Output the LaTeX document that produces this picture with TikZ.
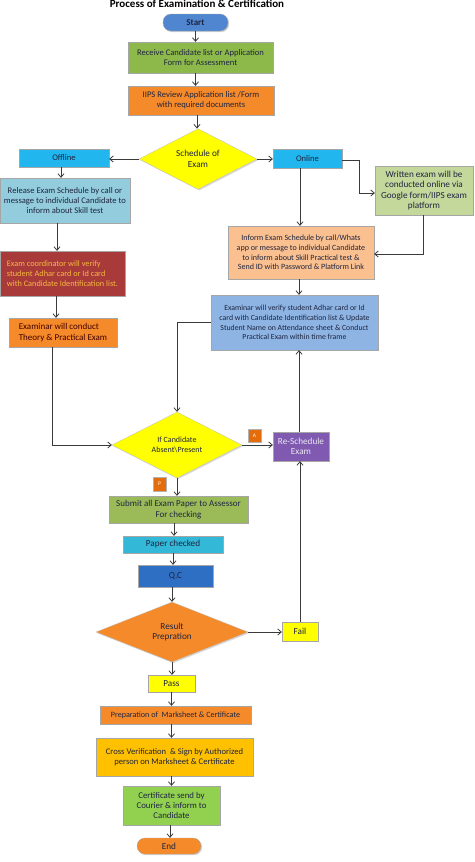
\documentclass[tikz,border=0pt]{standalone}
\usepackage{fontspec}
\setmainfont{Carlito}
\usetikzlibrary{arrows.meta,shapes.geometric,shadows,calc}
\definecolor{cStart}{HTML}{4F86CF}
\definecolor{cGreen}{HTML}{8DB84A}
\definecolor{cOrange}{HTML}{F58A2A}
\definecolor{cYellow}{HTML}{FFFF00}
\definecolor{cCyan}{HTML}{21B6EE}
\definecolor{cLtGreen}{HTML}{C4D89C}
\definecolor{cLtBlue}{HTML}{93CDDD}
\definecolor{cDkRed}{HTML}{A93A3A}
\definecolor{cCoordTxt}{HTML}{F5B841}
\definecolor{cPeach}{HTML}{FBC08F}
\definecolor{cMidBlue}{HTML}{8DB4E3}
\definecolor{cPurple}{HTML}{7F5AB0}
\definecolor{cTag}{HTML}{E46C0A}
\definecolor{cSubmit}{HTML}{9BBB59}
\definecolor{cPaper}{HTML}{33B8D8}
\definecolor{cQC}{HTML}{2E6FC4}
\definecolor{cGold}{HTML}{FFC000}
\definecolor{cCert}{HTML}{92D050}
\definecolor{cTxt}{HTML}{1F2540}
\definecolor{cLine}{HTML}{3A3A3A}
\begin{document}
\begin{tikzpicture}[x=1pt,y=-1pt,
  every node/.style={font=\fontsize{8.6}{10.3}\selectfont, text=cTxt},
  box/.style={draw=black!35, line width=0.3pt, align=center, inner sep=1pt,
    drop shadow={shadow xshift=1.2pt, shadow yshift=-1.2pt, opacity=0.35}},
  pill/.style={box, rounded corners=8pt},
  dia/.style={diamond, draw=black!25, line width=0.3pt, align=center, inner sep=0pt,
    drop shadow={shadow xshift=1.2pt, shadow yshift=-1.2pt, opacity=0.3}},
  tag/.style={fill=cTag, draw=black!30, line width=0.3pt, inner sep=0pt,
    font=\fontsize{5.5}{6}\selectfont, text=white},
  arr/.style={draw=cLine, line width=0.8pt, -{Straight Barb[length=3.5pt,width=6pt]}},
  ln/.style={draw=cLine, line width=0.8pt}
]
\useasboundingbox (0,0) rectangle (474,862);

\node[font=\bfseries\fontsize{11}{12}\selectfont, text=black, anchor=base] (title) at (197,7.5) {Process of Examination \& Certification};

\node[pill, fill=cStart, minimum width=65, minimum height=17, font=\fontsize{9}{10}\selectfont] (start) at (195.5,22.5) {\textbf{Start}};
\node[box, fill=cGreen, minimum width=145, minimum height=31] (recv) at (200.5,57.5) {Receive Candidate list or Application\\Form for Assessment};
\node[box, fill=cOrange, minimum width=146, minimum height=29] (iips) at (201,100.5) {IIPS Review Application list /Form\\with required documents};
\node[dia, fill=cYellow, minimum width=118, minimum height=52, font=\fontsize{9.2}{10.5}\selectfont] (sched) at (198,159) {Schedule of\\Exam};
\node[box, fill=cCyan, minimum width=90, minimum height=18] (offline) at (64,158) {Offline};
\node[box, fill=cCyan, minimum width=69, minimum height=19] (online) at (307.5,158.5) {Online};
\node[box, fill=cLtGreen, minimum width=98, minimum height=49, font=\fontsize{9.2}{10.6}\selectfont] (written) at (424,190.5) {Written exam will be\\conducted online via\\Google form/IIPS exam\\platform};
\node[box, fill=cLtBlue, minimum width=130, minimum height=45] (release) at (65,200.5) {Release Exam Schedule by call or\\message to individual Candidate to\\inform about Skill test};
\node[box, fill=cDkRed, minimum width=125, minimum height=45, text=cCoordTxt, align=left, font=\fontsize{8.3}{10.3}\selectfont] (coord) at (62.5,273.5) {Exam coordinator will verify\\student Adhar card or Id card\\with Candidate Identification list.};
\node[box, fill=cOrange, minimum width=108, minimum height=29, align=left, text=black!75!red, font=\fontsize{9}{10.4}\selectfont] (conduct) at (63,332.5) {Examinar will conduct\\Theory \& Practical Exam};
\node[box, fill=cPeach, minimum width=146, minimum height=53, font=\fontsize{8.05}{9.7}\selectfont] (inform) at (301,252.5) {Inform Exam Schedule by call/Whats\\app or message to individual Candidate\\to inform about Skill Practical test \&\\Send ID with Password \& Platform Link};
\node[box, fill=cMidBlue, minimum width=167, minimum height=55, font=\fontsize{7.8}{9.7}\selectfont] (verify) at (294.5,322.5) {Examinar will verify student Adhar card or Id\\card with Candidate Identification list \& Update\\Student Name on Attendance sheet \& Conduct\\Practical Exam within time frame};
\node[dia, fill=cYellow, minimum width=130, minimum height=62, font=\fontsize{8}{9.6}\selectfont] (absent) at (177,445) {If Candidate\\Absent\textbackslash Present};
\node[box, fill=cPurple, minimum width=56, minimum height=29, text=white!85!cPurple, font=\fontsize{9.2}{10.5}\selectfont] (resched) at (301,446.5) {Re-Schedule\\Exam};
\node[tag, minimum width=13, minimum height=13] (tagA) at (254.5,435.5) {A};
\node[tag, minimum width=13, minimum height=14] (tagP) at (159.5,484) {P};
\node[box, fill=cSubmit, minimum width=139, minimum height=27, font=\fontsize{9}{10.4}\selectfont] (submit) at (178.5,509.5) {Submit all Exam Paper to Assessor\\For checking};
\node[box, fill=cPaper, minimum width=100, minimum height=17, font=\fontsize{9.2}{10}\selectfont] (paper) at (173,544.5) {Paper checked};
\node[box, fill=cQC, minimum width=75, minimum height=22, font=\fontsize{9.2}{10}\selectfont] (qc) at (175.5,576) {Q.C};
\node[dia, fill=cOrange, minimum width=152, minimum height=60, font=\fontsize{9.2}{10.5}\selectfont] (result) at (172,632) {Result\\Prepration};
\node[box, fill=cYellow, minimum width=36, minimum height=19, font=\fontsize{9.2}{10}\selectfont] (fail) at (300,631.5) {Fail};
\node[box, fill=cYellow, minimum width=47, minimum height=17, font=\fontsize{9.2}{10}\selectfont] (pass) at (171.5,683.5) {Pass};
\node[box, fill=cOrange, minimum width=151, minimum height=18, font=\fontsize{8.1}{9}\selectfont] (prep) at (175.5,715) {Preparation of~ Marksheet \& Certificate};
\node[box, fill=cGold, minimum width=157, minimum height=38] (cross) at (174.5,757) {Cross Verification~ \& Sign by Authorized\\person on Marksheet \& Certificate};
\node[box, fill=cCert, minimum width=97, minimum height=39, font=\fontsize{8.8}{10.3}\selectfont] (cert) at (171.5,805.5) {Certificate send by\\Courier \& inform to\\Candidate};
\node[pill, fill=cOrange, minimum width=64, minimum height=16, font=\fontsize{9.2}{10}\selectfont] (end) at (169,846) {End};

% connectors
\draw[arr] (start.south) -- (start.south |- recv.north);
\draw[arr] ([xshift=-5]recv.south) -- ([xshift=-5]recv.south |- iips.north);
\draw[arr] ([xshift=-4]iips.south) -- ([xshift=-4]iips.south |- sched.north);
\draw[arr] (sched.west) -- (sched.west -| offline.east);
\draw[arr] (sched.east) -- (sched.east -| online.west);
\coordinate (c1) at (359,160);
\draw[ln] (online.east |- c1) -- (c1);
\draw[arr] (c1) |- ([yshift=-2.5]written.west);
\draw[arr] ([xshift=-3]offline.south) -- ([xshift=-3]offline.south |- release.north);
\draw[arr] ([xshift=-8]release.south) -- ([xshift=-8]release.south |- coord.north);
\draw[arr] ([xshift=-6.5]coord.south) -- ([xshift=-6.5]coord.south |- conduct.north);
\draw[arr] ([xshift=-11]conduct.south) |- (absent.west);
\draw[arr] ([xshift=-7.5]online.south) -- ([xshift=-7.5]online.south |- inform.north);
\draw[arr] ([xshift=-1]written.south) |- ([yshift=-1.5]inform.east);
\draw[arr] ([xshift=-2]inform.south) -- ([xshift=-2]inform.south |- verify.north);
\draw[arr] (verify.west) -| (absent.north);
\draw[arr] (absent.east) -- (absent.east -| resched.west);
\draw[arr] ([xshift=-2]resched.north) -- ([xshift=-2]resched.north |- verify.south);
\draw[arr] (absent.south) -- (absent.south |- submit.north);
\draw[arr] ([xshift=-4.5]submit.south) -- ([xshift=-4.5]submit.south |- paper.north);
\draw[arr] (paper.south) -- (paper.south |- qc.north);
\draw[arr] ([xshift=-3.5]qc.south) -- ([xshift=-3.5]qc.south |- result.north);
\draw[arr] (result.east) -- (result.east -| fail.west);
\draw[arr] (fail.north) -- (fail.north |- resched.south);
\draw[arr] (result.south) -- (result.south |- pass.north);
\draw[arr] (pass.south) -- (pass.south |- prep.north);
\draw[arr] ([xshift=-4]prep.south) -- ([xshift=-4]prep.south |- cross.north);
\draw[arr] ([xshift=-3]cross.south) -- ([xshift=-3]cross.south |- cert.north);
\draw[arr] ([xshift=-1.5]cert.south) -- ([xshift=-1.5]cert.south |- end.north);
\end{tikzpicture}
\end{document}
